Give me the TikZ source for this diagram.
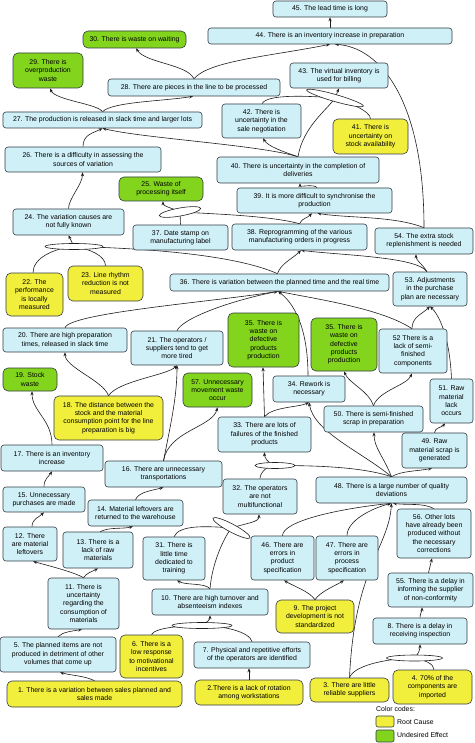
\documentclass[tikz,border=0pt]{standalone}
\usepackage{fontspec}
\setmainfont{Liberation Sans}
\usetikzlibrary{shapes.geometric,arrows.meta}
\definecolor{cblue}{RGB}{208,240,248}
\definecolor{cyellow}{RGB}{242,238,60}
\definecolor{cgreen}{RGB}{130,212,28}
\definecolor{bordercol}{RGB}{50,60,66}
\definecolor{linecol}{RGB}{30,30,30}
\pgfdeclarelayer{back}
\pgfdeclarelayer{bg}
\pgfsetlayers{back,bg,main}
\newcommand\NB[6]{\node[#1,minimum width=#2pt,minimum height=#3pt] (#4) at (#5) {#6};}
\tikzset{
 box/.style={draw=bordercol, line width=0.6pt, rounded corners=3pt, align=center, inner sep=1pt, font=\fontsize{6.9}{8.3}\selectfont, text=black},
 bbox/.style={box, fill=cblue},
 ybox/.style={box, fill=cyellow, rounded corners=5pt},
 gbox/.style={box, fill=cgreen, rounded corners=5pt},
 arr/.style={-{Stealth[length=4pt,width=3.2pt]}, line width=0.6pt, draw=linecol},
 ln/.style={line width=0.6pt, draw=linecol},
 junct/.style={ellipse, draw=linecol, line width=0.6pt, fill=white, inner sep=0pt},
 legtext/.style={anchor=west, inner sep=0pt, font=\fontsize{6.9}{8.3}\selectfont},
}
\begin{document}
\begin{tikzpicture}[x=1pt,y=-1pt]
\useasboundingbox (0,0) rectangle (474,743);
\begin{pgfonlayer}{back}
\fill[white] (0,0) rectangle (474,743);
\end{pgfonlayer}
% nodes
\NB{bbox}{114}{16}{n45}{330,9}{45. The lead time is long}
\NB{bbox}{244}{16}{n44}{330,36}{44. There is an inventory increase in preparation}
\NB{gbox}{103}{17}{n30}{134.5,39.5}{30. There is waste on waiting}
\NB{gbox}{70}{35}{n29}{48,70.5}{29. There is\\overproduction\\waste}
\NB{bbox}{98}{25}{n43}{339,75.5}{43. The virtual inventory is\\used for billing}
\NB{bbox}{172}{17}{n28}{194,87.5}{28. There are pieces in the line to be processed}
\NB{bbox}{79}{34}{n42}{261.5,121}{42. There is\\uncertainty in the\\sale negotiation}
\NB{bbox}{199}{16}{n27}{102.5,120}{27. The production is released in slack time and larger lots}
\NB{ybox}{75}{35}{n41}{370.5,136.5}{41. There is\\uncertainty on\\stock availability}
\NB{bbox}{156}{25}{n26}{83,159.5}{26. There is a difficulty in assessing the\\sources of variation}
\NB{bbox}{162}{26}{n40}{298,170}{40. There is uncertainty in the completion of\\deliveries}
\NB{gbox}{84}{24}{n25}{161,189}{25. Waste of\\processing itself}
\NB{bbox}{155}{25}{n39}{314.5,200.5}{39. It is more difficult to synchronise the\\production}
\NB{bbox}{111}{26}{n24}{68.5,222}{24. The variation causes are\\not fully known}
\NB{bbox}{95}{25}{n37}{180.5,237.5}{37. Date stamp on\\manufacturing label}
\NB{bbox}{135}{26}{n38}{299.5,237}{38. Reprogramming of the various\\manufacturing orders in progress}
\NB{bbox}{98}{26}{n54}{424,241}{54. The extra stock\\replenishment is needed}
\NB{ybox}{75}{35}{n23}{105.5,283.5}{23. Line rhythm\\reduction is not\\measured}
\NB{ybox}{57}{43}{n22}{34.5,294.5}{22. The\\performance\\is locally\\measured}
\NB{bbox}{219}{17}{n36}{279.5,282.5}{36. There is variation between the planned time and the real time}
\NB{bbox}{74}{34}{n53}{430,289}{53. Adjustments\\in the purchase\\plan are necessary}
\NB{gbox}{71}{54}{n35a}{263.5,340}{35. There is\\waste on\\defective\\products\\production}
\NB{gbox}{66}{53}{n35b}{344,344.5}{35. There is\\waste on\\defective\\products\\production}
\NB{bbox}{124}{24}{n20}{65,340}{20. There are high preparation\\times, released in slack time}
\NB{bbox}{92}{34}{n21}{177,348}{21. The operators /\\suppliers tend to get\\more tired}
\NB{bbox}{68}{44}{n52}{413,351}{52 There is a\\lack of semi-\\finished\\components}
\NB{gbox}{54}{23}{n19}{30,379.5}{19. Stock\\waste}
\NB{gbox}{69}{34}{n57}{217.5,390}{57. Unnecessary\\movement waste\\occur}
\NB{bbox}{72}{26}{n34}{309,389}{34. Rework is\\necessary}
\NB{bbox}{43}{44}{n51}{451.5,401}{51. Raw\\material\\lack\\occurs}
\NB{ybox}{109}{44}{n18}{108.5,418}{18. The distance between the\\stock and the material\\consumption point for the line\\preparation is big}
\NB{bbox}{99}{26}{n50}{373.5,419}{50. There is semi-finished\\scrap in preparation}
\NB{bbox}{93}{35}{n33}{264.5,434.5}{33. There are lots of\\failures of the finished\\products}
\NB{bbox}{65}{35}{n49}{434.5,450.5}{49. Raw\\material scrap is\\generated}
\NB{bbox}{102}{26}{n17}{52,458}{17. There is an inventory\\increase}
\NB{bbox}{117}{26}{n16}{163.5,474}{16. There are unnecessary\\transportations}
\NB{bbox}{151}{26}{n48}{391.5,490}{48. There is a large number of quality\\deviations}
\NB{bbox}{74}{35}{n32}{260,496.5}{32. The operators\\are not\\multifunctional}
\NB{bbox}{82}{25}{n15}{44,499.5}{15. Unnecessary\\purchases are made}
\NB{bbox}{95}{26}{n14}{135.5,513}{14. Material leftovers are\\returned to the warehouse}
\NB{bbox}{74}{49}{n56}{434,533.5}{56. Other lots\\have already been\\produced without\\the necessary\\corrections}
\NB{bbox}{54}{34}{n12}{30,544}{12. There\\are material\\leftovers}
\NB{bbox}{70}{36}{n13}{98,550}{13. There is a\\lack of raw\\materials}
\NB{bbox}{62}{43}{n31}{174,558.5}{31. There is\\little time\\dedicated to\\training}
\NB{bbox}{63}{44}{n46}{282.5,558}{46. There are\\errors in\\product\\specification}
\NB{bbox}{62}{44}{n47}{347,558}{47. There are\\errors in\\process\\specification}
\NB{bbox}{85}{34}{n55}{430.5,590}{55. There is a delay in\\informing the supplier\\of non-conformity}
\NB{bbox}{71}{51}{n11}{83.5,603.5}{11. There is\\uncertainty\\regarding the\\consumption of\\materials}
\NB{bbox}{116}{26}{n10}{210,602}{10. There are high turnover and\\absenteeism indexes}
\NB{ybox}{78}{33}{n9}{315,616.5}{9. The project\\development is not\\standardized}
\NB{bbox}{94}{26}{n8}{420,631}{8. There is a delay in\\receiving inspection}
\NB{ybox}{63}{43}{n6}{151.5,656.5}{6. There is a\\low response\\to motivational\\incentives}
\NB{bbox}{116}{35}{n5}{58,654.5}{5. The planned items are not\\produced in detriment of other\\volumes that come up}
\NB{bbox}{116}{26}{n7}{252,655}{7. Physical and repetitive efforts\\of the operators are identified}
\NB{ybox}{79}{34}{n4}{432.5,687}{4. 70\% of the\\components are\\imported}
\NB{ybox}{79}{24}{n3}{349.5,690}{3. There are little\\reliable suppliers}
\NB{ybox}{108}{25}{n2}{249,692.5}{2.There is a lack of rotation\\among workstations}
\NB{ybox}{175}{26}{n1}{94.5,694}{1. There is a variation between sales planned and\\sales made}
% junctors
\node[junct,minimum width=59pt,minimum height=7pt,rotate=-16] (j43) at (335,98) {};
\node[junct,minimum width=42pt,minimum height=8pt,rotate=10] (j25) at (180,212) {};
\node[junct,minimum width=58pt,minimum height=6pt] (j24) at (74,246.5) {};
\node[junct,minimum width=40pt,minimum height=6pt] (j33) at (275,465.5) {};
\node[junct,minimum width=42pt,minimum height=8pt,rotate=-28] (j32) at (231.5,528) {};
\node[junct,minimum width=60pt,minimum height=6pt] (j10) at (202,625.5) {};
\node[junct,minimum width=56pt,minimum height=6pt] (j8) at (414.5,658) {};
% legend
\node[legtext] (lgt) at (376,709) {Color codes:};
\node[draw=bordercol,line width=0.6pt,fill=cyellow,rounded corners=2pt,minimum width=18pt,minimum height=11pt,inner sep=0pt] (sw1) at (385,721.5) {};
\node[legtext] (lg1) at (397,722) {Root Cause};
\node[draw=bordercol,line width=0.6pt,fill=cgreen,rounded corners=2pt,minimum width=18pt,minimum height=12pt,inner sep=0pt] (sw2) at (385,736) {};
\node[legtext] (lg2) at (397,735.5) {Undesired Effect};
% edges
\begin{pgfonlayer}{bg}
\draw[arr] (n44.north) -- (n45.south);
\draw[arr] (n28.north) .. controls +(-8,-15) and +(10,15) .. ([xshift=1.5pt]n30.south);
\draw[arr] (n28.north) .. controls +(15,-18) and +(-60,12) .. (n44.south);
\draw[arr] (n54.north) .. controls +(0,-128) and +(45,3) .. ([xshift=5pt]n44.south);
\draw[arr] (n27.north) .. controls +(-5,-8) and +(5,12) .. ([xshift=2pt]n29.south);
\draw[arr] (n27.north) .. controls +(10,-10) and +(-30,5) .. ([xshift=-1pt]n28.south);
\draw[arr] (n26.north) .. controls +(0,-12) and +(-10,5) .. (n27.south);
\draw[arr] (n40.north) .. controls +(-40,-12) and +(40,10) .. (n27.south);
\draw[arr] (n40.north) .. controls +(-15,-5) and +(5,8) .. ([xshift=1.5pt]n42.south);
\draw[ln] (n40.north) .. controls +(5,-30) and +(-8,12) .. (j43.center);
\draw[ln] ([xshift=0.5pt]n42.north) .. controls +(5,-10) and +(-25,-2) .. (j43.center);
\draw[ln] (n41.north) .. controls +(0,-8) and +(12,4) .. (j43.center);
\draw[arr] (j43.center) -- (n43.south);
\draw[arr] ([xshift=2.5pt]n39.north) .. controls +(-3,-4) and +(0,4) .. ([xshift=2pt]n40.south);
\draw[arr] (n38.north) .. controls +(3,-6) and +(-5,5) .. ([xshift=-2.5pt]n39.south);
\draw[arr] (n54.north) .. controls +(-30,-12) and +(30,5) .. ([xshift=3pt]n39.south);
\draw[ln] (n38.north) .. controls +(-30,-8) and +(35,2) .. (j25.center);
\draw[ln] (n37.north) -- (j25.center);
\draw[arr] (j25.center) .. controls +(-5,-3) and +(0,5) .. ([xshift=2pt]n25.south);
\draw[arr] (n24.north) .. controls +(0,-10) and +(0,12) .. ([xshift=-0.5pt]n26.south);
\draw[ln] ([xshift=-1.5pt]n22.north) .. controls +(0,-15) and +(-20,2) .. (j24.center);
\draw[ln] (n23.north) .. controls +(0,-10) and +(15,2) .. (j24.center);
\draw[ln] ([xshift=-2pt]n36.north) .. controls +(-40,-18) and +(80,2) .. (j24.center);
\draw[arr] (j24.center) -- (n24.south);
\draw[arr] ([xshift=-2pt]n36.north) .. controls +(3,-10) and +(-8,8) .. ([xshift=1.5pt]n38.south);
\draw[arr] ([xshift=-3pt]n53.north) .. controls +(-10,-15) and +(40,5) .. ([xshift=1.5pt]n38.south);
\draw[arr] ([xshift=-3pt]n53.north) .. controls +(-5,-8) and +(0,6) .. ([xshift=-8pt]n54.south);
\draw[arr] ([xshift=-1pt]n52.north) .. controls +(0,-12) and +(-8,8) .. (n53.south);
\draw[arr] (n51.north) .. controls +(-2,-45) and +(8,8) .. (n53.south);
\draw[arr] ([xshift=-1pt]n52.north) .. controls +(-30,-20) and +(40,8) .. ([xshift=-1.5pt]n36.south);
\draw[arr] ([xshift=-1pt]n34.north) .. controls +(0,-40) and +(20,15) .. ([xshift=-1.5pt]n36.south);
\draw[arr] (n20.north) .. controls +(5,-15) and +(-60,10) .. ([xshift=-1.5pt]n36.south);
\draw[arr] (n21.north) .. controls +(5,-12) and +(-50,10) .. ([xshift=-1.5pt]n36.south);
\draw[arr] (n33.north) -- ([xshift=-0.5pt]n35a.south);
\draw[arr] (n33.north) .. controls +(8,-10) and +(-10,5) .. (n34.south);
\draw[arr] (n48.north) .. controls +(-30,-25) and +(5,30) .. (n34.south);
\draw[arr] (n48.north) .. controls +(-8,-20) and +(0,15) .. ([xshift=0.5pt]n50.south);
\draw[arr] (n48.north) .. controls +(10,-6) and +(-15,3) .. ([xshift=-2.5pt]n49.south);
\draw[arr] (n49.north) .. controls +(0,-5) and +(-3,4) .. ([xshift=-6.5pt]n51.south);
\draw[arr] (n50.north) .. controls +(-5,-15) and +(5,12) .. (n35b.south);
\draw[arr] (n50.north) .. controls +(5,-15) and +(-5,12) .. ([xshift=-1pt]n52.south);
\draw[ln] (n32.north) .. controls +(0,-6) and +(-8,0) .. (j33.center);
\draw[ln] (n48.north) .. controls +(-30,-10) and +(40,0) .. (j33.center);
\draw[arr] (j33.center) .. controls +(-8,-3) and +(0,5) .. (n33.south);
\draw[ln] (n31.north) .. controls +(5,-12) and +(-25,-2) .. (j32.center);
\draw[ln] (n10.north) .. controls +(2,-25) and +(-8,10) .. (j32.center);
\draw[arr] (j32.center) .. controls +(15,-5) and +(0,8) .. ([xshift=-1pt]n32.south);
\draw[arr] (n10.north) .. controls +(-5,-6) and +(8,5) .. ([xshift=3pt]n31.south);
\draw[ln] (n6.north) .. controls +(3,-7) and +(-20,0) .. (j10.center);
\draw[ln] (n7.north) .. controls +(-2,-10) and +(20,0) .. (j10.center);
\draw[arr] (j10.center) .. controls +(5,-3) and +(0,4) .. (n10.south);
\draw[arr] (n2.north) -- ([xshift=-3pt]n7.south);
\draw[arr] (n1.north) .. controls +(-10,-5) and +(10,3) .. ([xshift=2pt]n5.south);
\draw[arr] (n5.north) .. controls +(5,-5) and +(-10,2) .. ([xshift=-1.5pt]n11.south);
\draw[arr] (n11.north) .. controls +(-10,-6) and +(10,3) .. ([xshift=3pt]n12.south);
\draw[arr] (n11.north) .. controls +(3,-5) and +(-5,3) .. (n13.south);
\draw[arr] ([xshift=2pt]n12.north) .. controls +(0,-8) and +(-5,5) .. (n15.south);
\draw[arr] (n15.north) .. controls +(0,-8) and +(-3,5) .. (n17.south);
\draw[arr] (n17.north) .. controls +(0,-25) and +(0,20) .. ([xshift=2pt]n19.south);
\draw[arr] ([xshift=2pt]n13.north) .. controls +(10,-5) and +(-10,3) .. ([xshift=-2.5pt]n14.south);
\draw[arr] (n14.north) .. controls +(3,-8) and +(-10,3) .. (n16.south);
\draw[arr] (n16.north) .. controls +(5,-30) and +(-5,20) .. (n57.south);
\draw[arr] (n16.north) .. controls +(8,-40) and +(0,30) .. (n21.south);
\draw[arr] (n18.north) .. controls +(-5,-15) and +(0,15) .. (n20.south);
\draw[arr] (n18.north) .. controls +(10,-15) and +(-10,10) .. (n21.south);
\draw[arr] (n46.north) .. controls +(0,-15) and +(-50,5) .. (n48.south);
\draw[arr] (n47.north) .. controls +(0,-15) and +(-20,5) .. (n48.south);
\draw[arr] (n3.north) .. controls +(5,-110) and +(-3,45) .. (n48.south);
\draw[arr] (n56.north) .. controls +(-10,-6) and +(15,2) .. ([xshift=1.5pt]n48.south);
\draw[arr] (n9.north) .. controls +(-5,-8) and +(8,5) .. ([xshift=1.5pt]n46.south);
\draw[arr] (n9.north) .. controls +(5,-8) and +(-8,5) .. ([xshift=-3pt]n47.south);
\draw[arr] ([xshift=-2pt]n55.north) -- ([xshift=-2pt]n56.south);
\draw[arr] (n8.north) .. controls +(0,-4) and +(0,4) .. ([xshift=-8.5pt]n55.south);
\draw[ln] (n3.north) .. controls +(5,-14) and +(-20,0) .. (j8.center);
\draw[ln] ([xshift=1.5pt]n4.north) .. controls +(0,-6) and +(10,2) .. (j8.center);
\draw[arr] (j8.center) .. controls +(4,-4) and +(0,5) .. (n8.south);
\end{pgfonlayer}
\end{tikzpicture}
\end{document}
